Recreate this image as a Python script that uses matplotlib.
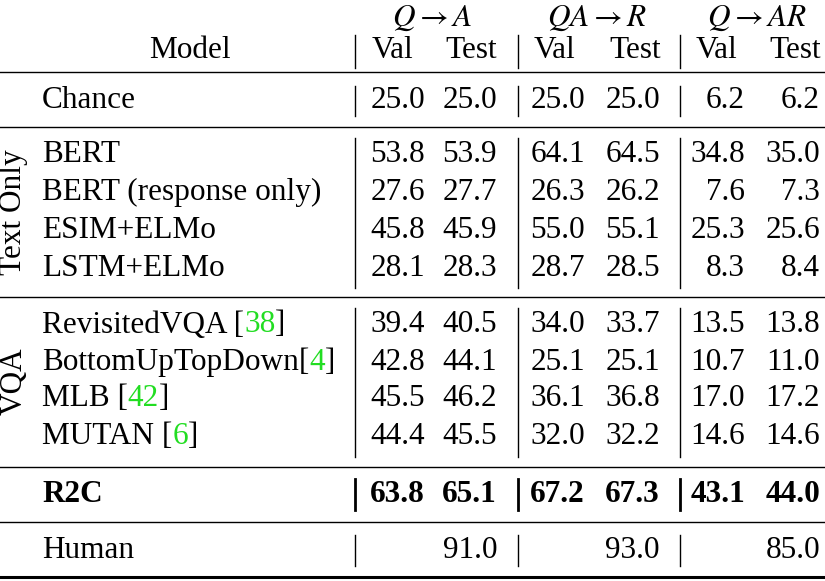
import matplotlib
matplotlib.use("Agg")
import matplotlib.pyplot as plt

plt.rcParams["font.family"] = ["Liberation Serif", "DejaVu Serif"]
plt.rcParams["mathtext.fontset"] = "stix"

groups = ["$Q \\rightarrow A$", "$QA \\rightarrow R$", "$Q \\rightarrow AR$"]
subcols = ["Val", "Test"]
# each model: list of (text, colour) pieces, then six values
text_only = [
    ([("BERT", "k")], ["53.8", "53.9", "64.1", "64.5", "34.8", "35.0"]),
    ([("BERT (response only)", "k")], ["27.6", "27.7", "26.3", "26.2", "7.6", "7.3"]),
    ([("ESIM+ELMo", "k")], ["45.8", "45.9", "55.0", "55.1", "25.3", "25.6"]),
    ([("LSTM+ELMo", "k")], ["28.1", "28.3", "28.7", "28.5", "8.3", "8.4"]),
]
vqa = [
    ([("RevisitedVQA [", "k"), ("38", "g"), ("]", "k")], ["39.4", "40.5", "34.0", "33.7", "13.5", "13.8"]),
    ([("BottomUpTopDown[", "k"), ("4", "g"), ("]", "k")], ["42.8", "44.1", "25.1", "25.1", "10.7", "11.0"]),
    ([("MLB [", "k"), ("42", "g"), ("]", "k")], ["45.5", "46.2", "36.1", "36.8", "17.0", "17.2"]),
    ([("MUTAN [", "k"), ("6", "g"), ("]", "k")], ["44.4", "45.5", "32.0", "32.2", "14.6", "14.6"]),
]
chance = ["25.0", "25.0", "25.0", "25.0", "6.2", "6.2"]
r2c = ["63.8", "65.1", "67.2", "67.3", "43.1", "44.0"]
human = ["", "91.0", "", "93.0", "", "85.0"]

green = "#22dd22"
fs = 22.5
fig = plt.figure(figsize=(8.25, 5.81), dpi=100)
ax = fig.add_axes([0, 0, 1, 1])
ax.set_xlim(0, 825)
ax.set_ylim(581, 0)
ax.axis("off")
fig.canvas.draw()
renderer = fig.canvas.get_renderer()

val_right = [425, 585, 745]
test_right = [497, 660, 820]
group_center = [432, 597, 757]
val_center = [392, 555, 717]
test_center = [471, 635, 795]
bars = [355, 518, 680]


def pieces(x, y, parts, weight="normal"):
    for s, c in parts:
        t = ax.text(x, y, s, fontsize=fs, color=green if c == "g" else "k",
                    ha="left", va="center", fontweight=weight)
        bb = t.get_window_extent(renderer)
        x += bb.width


def values(y, vals, weight="normal"):
    for i in range(3):
        ax.text(val_right[i], y, vals[2 * i], fontsize=fs, ha="right", va="center", fontweight=weight)
        ax.text(test_right[i], y, vals[2 * i + 1], fontsize=fs, ha="right", va="center", fontweight=weight)


def vbars(y0, y1, lw=1):
    for b in bars:
        ax.plot([b, b], [y0, y1], color="k", lw=lw)


# header
for i, g in enumerate(groups):
    ax.text(group_center[i], 18, g, fontsize=fs, ha="center", va="center")
    ax.text(val_center[i], 50, "Val", fontsize=fs, ha="center", va="center")
    ax.text(test_center[i], 50, "Test", fontsize=fs, ha="center", va="center")
ax.text(190, 50, "Model", fontsize=fs, ha="center", va="center")
vbars(35, 68)

ax.plot([0, 825], [72, 72], color="k", lw=1)
pieces(42, 100, [("Chance", "k")])
values(100, chance)
vbars(86, 116)

ax.plot([0, 825], [127, 127], color="k", lw=1)
ys = [155, 192, 230, 269]
for y, (name, v) in zip(ys, text_only):
    pieces(42, y, name)
    values(y, v)
vbars(138, 288)
ax.text(14, 212, "Text Only", fontsize=fs, rotation=90, ha="center", va="center")

ax.plot([0, 825], [297, 297], color="k", lw=1)
ys = [325, 362, 399, 437]
for y, (name, v) in zip(ys, vqa):
    pieces(42, y, name)
    values(y, v)
vbars(308, 457)
ax.text(14, 381, "VQA", fontsize=fs, rotation=90, ha="center", va="center")

ax.plot([0, 825], [467, 467], color="k", lw=1)
pieces(42, 494, [("R2C", "k")], weight="bold")
values(494, r2c, weight="bold")
vbars(479, 510, lw=2)

ax.plot([0, 825], [522, 522], color="k", lw=1)
pieces(42, 550, [("Human", "k")])
values(550, human)
vbars(535, 566)
ax.plot([0, 825], [577, 577], color="k", lw=2.2)

fig.savefig("out.png", dpi=100)
